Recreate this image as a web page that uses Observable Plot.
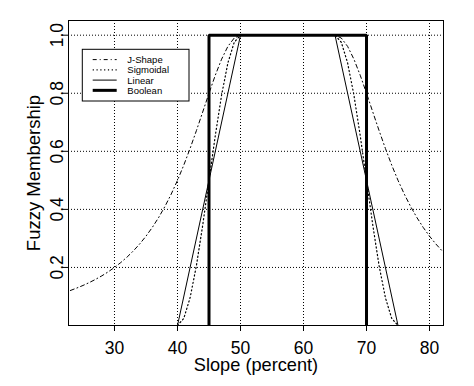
<!DOCTYPE html>
<html>
<head>
<meta charset="utf-8">
<script src="https://cdn.jsdelivr.net/npm/d3@7"></script>
<script src="https://cdn.jsdelivr.net/npm/@observablehq/plot@0.6"></script>
<style>
  html, body { margin: 0; padding: 0; background: #fff; }
  svg { display: block; }
</style>
</head>
<body>
<div id="chart"></div>
<script>
const xTicks = [30, 40, 50, 60, 70, 80];
const yTicks = [0.2, 0.4, 0.6, 0.8, 1.0];

const jX = [23,24,25,26,27,28,29,30,31,32,33,34,35,36,37,38,39,40,41,42,43,44,45,46,47,48,49,50,
            65,66,67,68,69,70,71,72,73,74,75,76,77,78,79,80,81,82];
const jY = [0.1206,0.1289,0.1379,0.1479,0.1590,0.1712,0.1848,0.2000,0.2169,0.2358,0.2571,0.2809,0.3077,0.3378,
            0.3717,0.4098,0.4525,0.5000,0.5525,0.6098,0.6711,0.7353,0.8000,0.8621,0.9174,0.9615,0.9901,1.0,
            1.0,0.9901,0.9615,0.9174,0.8621,0.8000,0.7353,0.6711,0.6098,0.5525,0.5000,0.4525,0.4098,0.3717,
            0.3378,0.3077,0.2809,0.2571];

const sigX = [40,41,42,43,44,45,46,47,48,49,50,65,66,67,68,69,70,71,72,73,74,75];
const sigY = [0,0.0245,0.0955,0.2061,0.3455,0.5,0.6545,0.7939,0.9045,0.9755,1,
              1,0.9755,0.9045,0.7939,0.6545,0.5,0.3455,0.2061,0.0955,0.0245,0];

const linX = [40, 50, 65, 75];
const linY = [0, 1, 1, 0];

const boolX = [45, 45, 70, 70];
const boolY = [0, 1, 1, 0];

const seriesNames = ["J-Shape", "Sigmoidal", "Linear", "Boolean"];

const toRows = (xs, ys) => xs.map((x, i) => ({x, y: ys[i]}));
const jRows = toRows(jX, jY);
const sigRows = toRows(sigX, sigY);
const linRows = toRows(linX, linY);
const boolRows = toRows(boolX, boolY);

const styles = {
  "J-Shape":  {strokeWidth: 1, dash: "4,3,1,3"},
  "Sigmoidal":{strokeWidth: 1.2, dash: "1.2,2.6"},
  "Linear":   {strokeWidth: 1, dash: null},
  "Boolean":  {strokeWidth: 3, dash: null}
};

const font = "'Liberation Sans', Arial, Helvetica, sans-serif";

const chart = Plot.plot({
  width: 474,
  height: 386,
  marginLeft: 68,
  marginRight: 31,
  marginTop: 20,
  marginBottom: 61,
  style: {fontFamily: font, background: "#fff", color: "black"},
  x: {domain: [22.7, 82.22], axis: null},
  y: {domain: [0, 1.0506], axis: null},
  marks: [
    Plot.gridX(xTicks, {stroke: "black", strokeOpacity: 1, strokeDasharray: "1,2", strokeWidth: 1}),
    Plot.gridY(yTicks, {stroke: "black", strokeOpacity: 1, strokeDasharray: "1,2", strokeWidth: 1}),
    Plot.line(jRows, {x: "x", y: "y", stroke: "black", strokeWidth: styles["J-Shape"].strokeWidth, strokeDasharray: styles["J-Shape"].dash, clip: true}),
    Plot.line(sigRows, {x: "x", y: "y", stroke: "black", strokeWidth: styles["Sigmoidal"].strokeWidth, strokeDasharray: styles["Sigmoidal"].dash, clip: true}),
    Plot.line(linRows, {x: "x", y: "y", stroke: "black", strokeWidth: styles["Linear"].strokeWidth, clip: true}),
    Plot.line(boolRows, {x: "x", y: "y", stroke: "black", strokeWidth: styles["Boolean"].strokeWidth, strokeLinejoin: "miter", strokeLinecap: "butt", clip: true}),
    Plot.frame({stroke: "black", strokeWidth: 1}),
    Plot.axisX({ticks: xTicks, tickSize: 6, tickPadding: 10, fontSize: 17.5, label: null, tickFormat: d => String(d)}),
    Plot.axisY({ticks: yTicks, tickSize: 6, tickFormat: () => "", label: null}),
    Plot.text(yTicks, {y: d => d, frameAnchor: "left", dx: -11, rotate: -90, text: d => d.toFixed(1), fontSize: 17.5, textAnchor: "middle", lineAnchor: "middle"}),
    Plot.text(["Fuzzy Membership"], {frameAnchor: "left", dx: -34, rotate: -90, fontSize: 18.5, textAnchor: "middle", lineAnchor: "middle"}),
    Plot.text(["Slope (percent)"], {frameAnchor: "bottom", dy: 40, fontSize: 18.2, textAnchor: "middle", lineAnchor: "middle"})
  ]
});

// Legend drawn into the plot's SVG
const svg = d3.select(chart);
const lg = svg.append("g").attr("font-family", font).attr("text-anchor", "start");
lg.append("rect").attr("x", 82.3).attr("y", 49.3).attr("width", 106.7).attr("height", 51.7)
  .attr("fill", "white").attr("stroke", "black").attr("stroke-width", 1);
seriesNames.forEach((name, i) => {
  const yy = 59.6 + i * 10.25;
  const s = styles[name];
  lg.append("line").attr("x1", 92.7).attr("x2", 116.7).attr("y1", yy).attr("y2", yy)
    .attr("stroke", "black").attr("stroke-width", s.strokeWidth)
    .attr("stroke-dasharray", s.dash);
  lg.append("text").attr("x", 127.3).attr("y", yy + 3.6).attr("font-size", 9.5)
    .attr("text-anchor", "start").attr("fill", "black").text(name);
});

document.getElementById("chart").appendChild(chart);
</script>
</body>
</html>
